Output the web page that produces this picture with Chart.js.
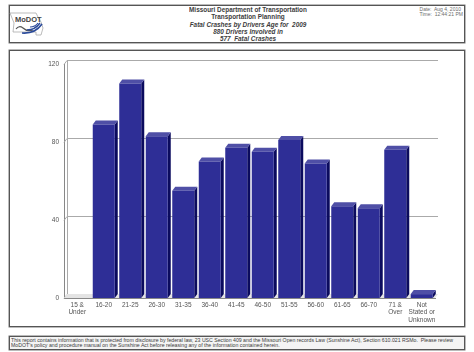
<!DOCTYPE html>
<html>
<head>
<meta charset="utf-8">
<title>Fatal Crashes by Drivers Age</title>
<script src="https://cdn.jsdelivr.net/npm/chart.js@4"></script>
<style>
  body { margin: 0; background: #fff; font-family: "Liberation Sans", Arial, sans-serif; color: #333; }
  .box { position: absolute; left: 9px; width: 454px; border: 1px solid #555; box-shadow: 0 0 0 0.5px #777; box-sizing: content-box; }
  #head { top: 5px; height: 36px; }
  #frame { top: 50px; height: 275px; }
  #foot { top: 336px; height: 12px; overflow: hidden; background: #f4f4f4; }
  #title { position: absolute; left: 9px; width: 478px; top: 6px; text-align: center; font-size: 6.4px; line-height: 7.3px; font-weight: bold; white-space: nowrap; opacity: .95; }
  #title i { font-style: italic; }
  #stamp { position: absolute; right: 11px; top: 7px; font-size: 5px; line-height: 5.2px; color: #666; white-space: pre; opacity: .95; }
  #foot p { margin: 0; padding: 1px 1px; font-size: 5.2px; line-height: 5.4px; color: #333; white-space: nowrap; opacity: .95; }
  #logo { position: absolute; left: 9px; top: 10px; }
  canvas { position: absolute; left: 0; top: 0; }
</style>
</head>
<body>
<div class="box" id="head"></div>
<div class="box" id="frame"></div>
<div class="box" id="foot"><p>This report contains information that is protected from disclosure by federal law, 23 USC Section 409 and the Missouri Open records Law (Sunshine Act), Section 610.021 RSMo.&nbsp; Please review<br>MoDOT's policy and procedure manual on the Sunshine Act before releasing any of the information contained herein.</p></div>
<div id="title">Missouri Department of Transportation<br>Transportation Planning<br><i>Fatal Crashes by Drivers Age for&nbsp; 2009<br>880 Drivers Involved in<br>577&nbsp; Fatal Crashes</i></div>
<div id="stamp">Date:  Aug 4, 2010
Time:  12:44:21 PM</div>
<svg id="logo" width="36" height="28" viewBox="0 0 36 28">
  <path d="M1 3 H27 L29 7 L32 12 L34 18 L32 25 H27 L27 22 H4 L5 13 Z" fill="#fff" stroke="#aaa" stroke-width="0.8"/>
  <text x="6" y="12" font-family="Liberation Sans" font-weight="bold" font-size="7.5" fill="#444">MoDOT</text>
  <path d="M7 19 Q10 15 14 18 Q18 22 24 20" fill="none" stroke="#555" stroke-width="1.2"/>
  <path d="M13 23 Q26 24 33 14" fill="none" stroke="#2a4a9a" stroke-width="1.6"/>
  <path d="M18 20 Q26 20 31 13" fill="none" stroke="#2a4a9a" stroke-width="1.4"/>
  <path d="M21 17 Q26 17 29 13" fill="none" stroke="#2a4a9a" stroke-width="1.2"/>
</svg>
<canvas id="chart" width="474" height="352"></canvas>
<script>
const categories = [["15 &", "Under"], "16-20", "21-25", "26-30", "31-35", "36-40", "41-45", "46-50", "51-55", "56-60", "61-65", "66-70", ["71 &", "Over"], ["Not", "Stated or", "Unknown"]];
const drivers = [0, 89, 110, 83, 55, 70, 77, 75, 81, 69, 47, 46, 76, 2];
const yTicks = [0, 40, 80, 120];

const depthX = 3;
const depthY = 4;

function poly(ctx, pts, fill) {
  ctx.beginPath();
  pts.forEach((p, i) => (i ? ctx.lineTo(p[0], p[1]) : ctx.moveTo(p[0], p[1])));
  ctx.closePath();
  ctx.fillStyle = fill;
  ctx.fill();
}

// Chart.js has no 3d bars, so the wall, floor and bar depth are added here
const depth3d = {
  id: "depth3d",
  beforeDatasetsDraw(chart) {
    const { ctx, chartArea: a, scales: { y } } = chart;
    ctx.save();
    ctx.strokeStyle = "#aaa";
    ctx.lineWidth = 1;
    yTicks.forEach((t) => {
      const py = Math.round(y.getPixelForValue(t)) - depthY + 0.5;
      if (t > 0) {
        ctx.beginPath();
        ctx.moveTo(a.left + depthX, py);
        ctx.lineTo(a.right + depthX, py);
        ctx.stroke();
      }
      ctx.beginPath();
      ctx.moveTo(a.left, py + depthY);
      ctx.lineTo(a.left + depthX, py);
      ctx.stroke();
    });
    ctx.beginPath();
    ctx.moveTo(a.left + depthX + 0.5, a.top - depthY);
    ctx.lineTo(a.left + depthX + 0.5, a.bottom - depthY);
    ctx.stroke();
    poly(ctx, [[a.left, a.bottom], [a.left + depthX, a.bottom - depthY], [a.right + depthX, a.bottom - depthY], [a.right, a.bottom]], "#e4e4e4");
    chart.getDatasetMeta(0).data.forEach((bar, i) => {
      if (drivers[i] === 0) return;
      const p = bar.getProps(["x", "y", "base", "width"], true);
      const l = p.x - p.width / 2;
      const r = p.x + p.width / 2;
      poly(ctx, [[r, p.y], [r + depthX, p.y - depthY], [r + depthX, p.base - depthY], [r, p.base]], "#0b0b5e");
      poly(ctx, [[l, p.y], [l + depthX, p.y - depthY], [r + depthX, p.y - depthY], [r, p.y]], "#4f4fa6");
    });
    ctx.restore();
  },
};

new Chart(document.getElementById("chart"), {
  type: "bar",
  data: {
    labels: categories,
    datasets: [{ data: drivers, backgroundColor: "#2e2e96", barPercentage: 0.83, categoryPercentage: 1 }],
  },
  options: {
    responsive: false,
    animation: false,
    layout: { padding: { top: 64, right: 39, left: 0, bottom: 0 } },
    plugins: { legend: { display: false }, tooltip: { enabled: false } },
    scales: {
      x: {
        grid: { display: false, drawTicks: false },
        border: { color: "#888" },
        afterFit: (s) => { s.height = 54; },
        ticks: { color: "#555", font: { family: "Liberation Sans", size: 6.5 }, maxRotation: 0, autoSkip: false, padding: 3 },
      },
      y: {
        min: 0,
        max: 120,
        afterFit: (s) => { s.width = 64; },
        afterBuildTicks: (s) => { s.ticks = yTicks.map((value) => ({ value })); },
        grid: { display: false, drawTicks: false },
        border: { color: "#888" },
        ticks: { color: "#555", font: { family: "Liberation Sans", size: 6.5 }, padding: 5 },
      },
    },
  },
  plugins: [depth3d],
});
</script>
</body>
</html>
